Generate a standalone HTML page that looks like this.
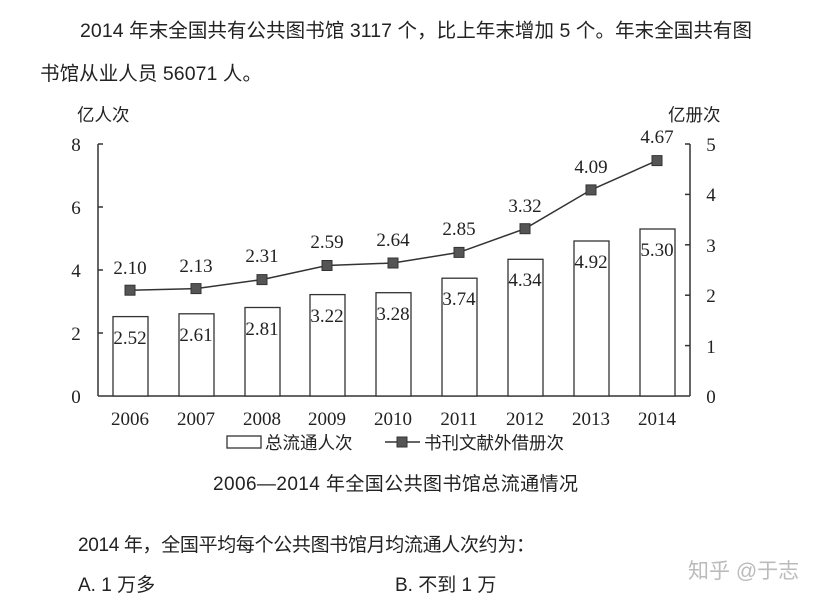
<!DOCTYPE html>
<html><head><meta charset="utf-8"><style>
body{margin:0;background:#fff;}
svg{display:block}
.s{font-family:"Liberation Sans","Noto Sans CJK SC",sans-serif;fill:#222}
.r{font-family:"Liberation Serif","Noto Serif CJK SC",serif;fill:#222}
</style></head><body>
<svg width="816" height="600" viewBox="0 0 816 600">
<text class="s" x="80" y="37" font-size="19.5" textLength="672" lengthAdjust="spacing">2014 年末全国共有公共图书馆 3117 个，比上年末增加 5 个。年末全国共有图</text>
<text class="s" x="40" y="80" font-size="19.5" textLength="222" lengthAdjust="spacing">书馆从业人员 56071 人。</text>
<text class="s" x="77" y="121" font-size="17.5">亿人次</text>
<text class="s" x="668" y="121" font-size="17.5">亿册次</text>
<g stroke="#333" stroke-width="1.5" fill="none">
<line x1="98" y1="144" x2="98" y2="396"/>
<line x1="98" y1="396" x2="690" y2="396"/>
<line x1="690" y1="144" x2="690" y2="396"/>
<line x1="98" y1="144" x2="103" y2="144"/>
<line x1="98" y1="207" x2="103" y2="207"/>
<line x1="98" y1="270" x2="103" y2="270"/>
<line x1="98" y1="333" x2="103" y2="333"/>
<line x1="685" y1="144" x2="690" y2="144"/>
<line x1="685" y1="194.4" x2="690" y2="194.4"/>
<line x1="685" y1="244.8" x2="690" y2="244.8"/>
<line x1="685" y1="295.2" x2="690" y2="295.2"/>
<line x1="685" y1="345.6" x2="690" y2="345.6"/>
</g>
<g class="r" font-size="19" text-anchor="middle">
<text x="76" y="151">8</text><text x="76" y="214">6</text><text x="76" y="277">4</text><text x="76" y="340">2</text><text x="76" y="403">0</text>
<text x="711" y="151">5</text><text x="711" y="201">4</text><text x="711" y="252">3</text><text x="711" y="302">2</text><text x="711" y="353">1</text><text x="711" y="403">0</text>
</g>
<g stroke="#333" stroke-width="1.3" fill="#fff">
<rect x="113" y="316.6" width="35" height="79.4"/>
<rect x="179" y="313.8" width="35" height="82.2"/>
<rect x="245" y="307.5" width="35" height="88.5"/>
<rect x="310" y="294.6" width="35" height="101.4"/>
<rect x="376" y="292.7" width="35" height="103.3"/>
<rect x="442" y="278.2" width="35" height="117.8"/>
<rect x="508" y="259.3" width="35" height="136.7"/>
<rect x="574" y="241" width="35" height="155"/>
<rect x="640" y="229" width="35" height="167"/>
</g>
<g class="r" font-size="19" text-anchor="middle">
<text x="130" y="344">2.52</text><text x="196" y="341">2.61</text><text x="262" y="335">2.81</text><text x="327" y="322">3.22</text><text x="393" y="320">3.28</text><text x="459" y="305">3.74</text><text x="525" y="286">4.34</text><text x="591" y="268">4.92</text><text x="657" y="256">5.30</text>
</g>
<polyline fill="none" stroke="#333" stroke-width="1.5" points="130,290.2 196,288.6 262,279.6 327,265.5 393,263 459,252.4 525,228.7 591,189.9 657,160.6"/>
<g fill="#555" stroke="#333" stroke-width="1">
<rect x="125" y="285.2" width="10" height="10"/><rect x="191" y="283.6" width="10" height="10"/><rect x="257" y="274.6" width="10" height="10"/><rect x="322" y="260.5" width="10" height="10"/><rect x="388" y="258" width="10" height="10"/><rect x="454" y="247.4" width="10" height="10"/><rect x="520" y="223.7" width="10" height="10"/><rect x="586" y="184.9" width="10" height="10"/><rect x="652" y="155.6" width="10" height="10"/>
</g>
<g class="r" font-size="19" text-anchor="middle">
<text x="130" y="274">2.10</text><text x="196" y="272">2.13</text><text x="262" y="262">2.31</text><text x="327" y="248">2.59</text><text x="393" y="246">2.64</text><text x="459" y="235">2.85</text><text x="525" y="212">3.32</text><text x="591" y="173">4.09</text><text x="657" y="143">4.67</text>
</g>
<g class="r" font-size="19" text-anchor="middle">
<text x="130" y="425">2006</text><text x="196" y="425">2007</text><text x="262" y="425">2008</text><text x="327" y="425">2009</text><text x="393" y="425">2010</text><text x="459" y="425">2011</text><text x="525" y="425">2012</text><text x="591" y="425">2013</text><text x="657" y="425">2014</text>
</g>
<rect x="227" y="436" width="34" height="12" fill="#fff" stroke="#333" stroke-width="1.3"/>
<text class="s" x="265" y="449" font-size="17.5">总流通人次</text>
<line x1="385" y1="442" x2="420" y2="442" stroke="#333" stroke-width="1.5"/>
<rect x="397" y="437" width="10" height="10" fill="#555" stroke="#333"/>
<text class="s" x="424" y="449" font-size="17.5">书刊文献外借册次</text>
<text class="s" x="213" y="490" font-size="19" textLength="365" lengthAdjust="spacing">2006—2014 年全国公共图书馆总流通情况</text>
<text class="s" x="78" y="551" font-size="19" textLength="457" lengthAdjust="spacing">2014 年，全国平均每个公共图书馆月均流通人次约为：</text>
<text class="s" x="78" y="591" font-size="19">A. 1 万多</text>
<text class="s" x="395" y="591" font-size="19">B. 不到 1 万</text>
<text x="688" y="578" font-size="21" fill="#bbb" font-family="Liberation Sans,'Noto Sans CJK SC',sans-serif">知乎 @于志</text>
</svg>
</body></html>
